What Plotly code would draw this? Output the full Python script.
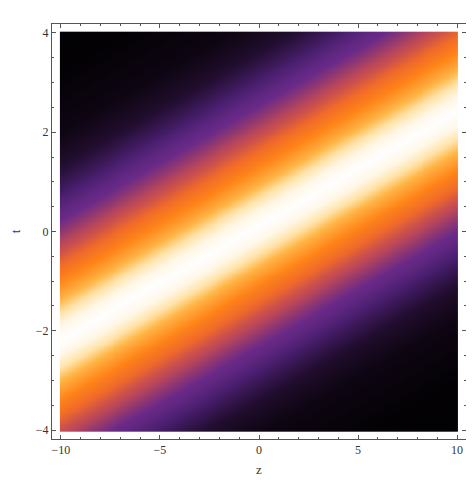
import numpy as np
import plotly.graph_objects as go

# band centre t = slope * z + shift
slope = 0.23
shift = 0.12
# intensity across the band vs vertical distance from centre
offsets = [0.0, 0.3, 0.6, 0.9, 1.2, 1.5, 1.8, 2.2, 2.6, 3.0, 3.5, 4.2, 5.5, 8.0]
levels = [1.0, 0.97, 0.88, 0.76, 0.66, 0.56, 0.47, 0.39, 0.32, 0.22, 0.12, 0.05, 0.01, 0.0]

x_ticks = [-10, -5, 0, 5, 10]
y_ticks = [-4, -2, 0, 2, 4]

z_vals = np.linspace(-10, 10, 201)
t_vals = np.linspace(-4, 4, 161)
Z, T = np.meshgrid(z_vals, t_vals)
D = np.abs(T - (slope * Z + shift))
I = np.interp(D, offsets, levels)

sunset = [
    [0.0, "#000000"],
    [0.1, "#1c0b26"],
    [0.25, "#4c2072"],
    [0.35, "#6a2a88"],
    [0.45, "#c04a56"],
    [0.55, "#f06a2a"],
    [0.66, "#ff8418"],
    [0.8, "#ffb84a"],
    [0.9, "#ffe6b0"],
    [1.0, "#ffffff"],
]

fig = go.Figure(go.Heatmap(x=z_vals, y=t_vals, z=I, colorscale=sunset,
                           zmin=0, zmax=1, showscale=False, zsmooth="best"))

axis_style = dict(showline=True, linecolor="#555", mirror="allticks", ticks="inside",
                  ticklen=4, tickcolor="#555", showgrid=False, zeroline=False,
                  automargin=False,
                  tickfont=dict(family="Liberation Serif", size=12, color="#333"))
fig.update_xaxes(range=[-10.45, 10.45], tickvals=x_ticks,
                 minor=dict(ticks="inside", ticklen=2, dtick=1, tickcolor="#555"),
                 title=dict(text="z", standoff=8,
                            font=dict(family="Liberation Serif", size=13, color="#333")),
                 **axis_style)
fig.update_yaxes(range=[-4.18, 4.18], tickvals=y_ticks,
                 minor=dict(ticks="inside", ticklen=2, dtick=0.5, tickcolor="#555"),
                 title=dict(text="t", standoff=14,
                            font=dict(family="Liberation Serif", size=13, color="#333")),
                 **axis_style)
fig.update_layout(width=474, height=483, margin=dict(l=44, r=16, t=16, b=52),
                  plot_bgcolor="white", paper_bgcolor="white")
fig.write_html("out.html")
